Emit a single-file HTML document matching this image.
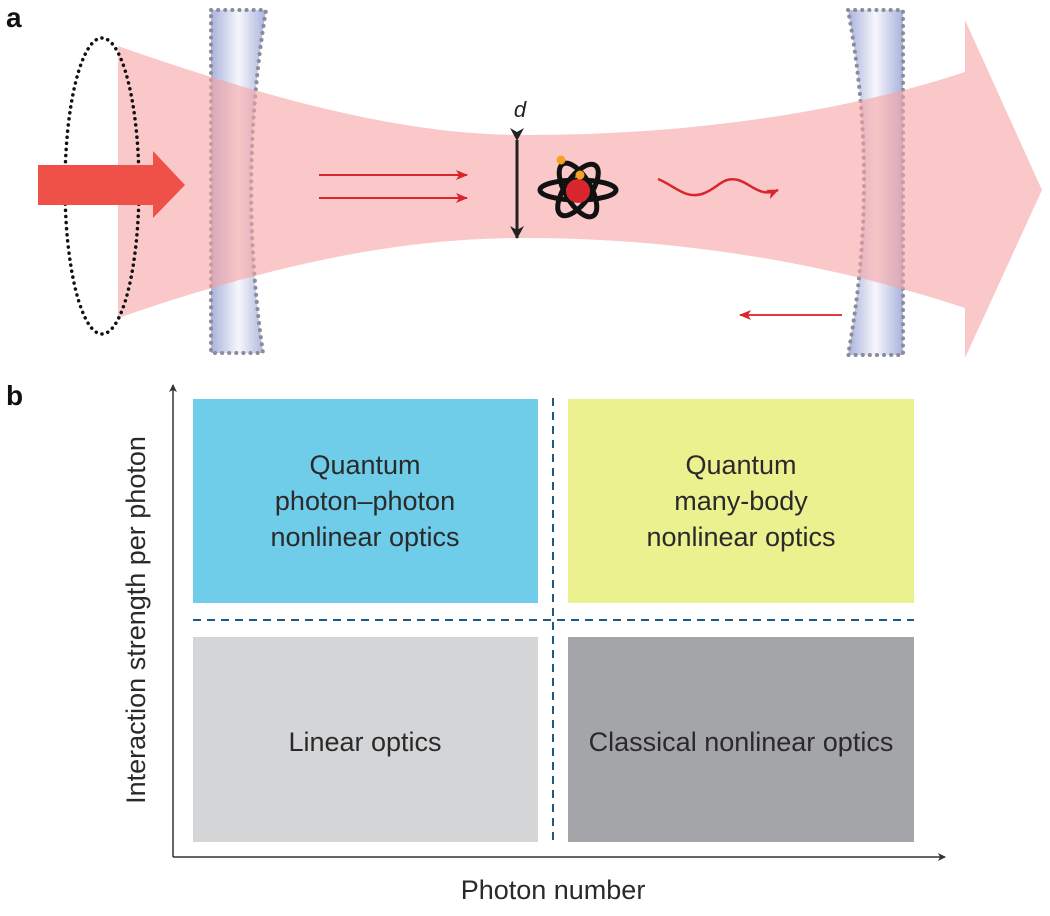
<!DOCTYPE html>
<html><head><meta charset="utf-8"><style>
body{margin:0;background:#fff;width:1050px;height:911px;overflow:hidden}
svg text{font-family:"Liberation Sans",sans-serif}
</style></head><body>
<svg width="1050" height="911" viewBox="0 0 1050 911" xmlns="http://www.w3.org/2000/svg">
<defs>
<linearGradient id="mg" x1="0" x2="1" y1="0" y2="0">
<stop offset="0" stop-color="#a9b2dc"/><stop offset="0.5" stop-color="#f6f6fc"/><stop offset="1" stop-color="#a9b2dc"/>
</linearGradient>
<marker id="ar" markerWidth="12" markerHeight="10" refX="11" refY="5" orient="auto" markerUnits="userSpaceOnUse"><path d="M0,0 L12,5 L0,10 L3,5z" fill="#d9252e"/></marker>
<marker id="ab" markerWidth="14" markerHeight="14" refX="12" refY="7" orient="auto" markerUnits="userSpaceOnUse"><path d="M0,0 L13,7 L0,14 L4,7z" fill="#222"/></marker>
<marker id="ak" markerWidth="8" markerHeight="8" refX="7" refY="4" orient="auto" markerUnits="userSpaceOnUse"><path d="M0,0 L8,4 L0,8 L2,4z" fill="#333"/></marker>
</defs>
<text x="6" y="27" font-size="28" font-weight="bold" fill="#111">a</text>
<path d="M211,10 L266,10 Q238,180 263,353 L211,353 Z" fill="url(#mg)" stroke="#8a8c99" stroke-width="4" stroke-dasharray="0.1 7" stroke-linecap="round"/>
<path d="M848,10 L903,10 L903,355 L848,355 Q880,180 848,10 Z" fill="url(#mg)" stroke="#8a8c99" stroke-width="4" stroke-dasharray="0.1 7" stroke-linecap="round"/>
<path d="M118,46 C300,110 420,135 525,135 C700,135 850,110 965,72 L965,20 L1042,190 L965,358 L965,308 C850,270 700,238 525,238 C420,238 300,255 118,318 Z" fill="#f7a3a3" fill-opacity="0.6"/>
<ellipse cx="102" cy="186" rx="37" ry="148" fill="none" stroke="#111" stroke-width="3.5" stroke-dasharray="0.1 6" stroke-linecap="round"/>
<path d="M38,165 L153,165 L153,151 L185,185 L153,218 L153,205 L38,205 Z" fill="#ef5148"/>
<line x1="319" y1="175" x2="467" y2="175" stroke="#d9252e" stroke-width="2" marker-end="url(#ar)"/>
<line x1="319" y1="198" x2="467" y2="198" stroke="#d9252e" stroke-width="2" marker-end="url(#ar)"/>
<line x1="517" y1="140" x2="517" y2="238" stroke="#222" stroke-width="3" marker-start="url(#ab)" marker-end="url(#ab)"/>
<text x="520" y="117" font-size="22" font-style="italic" fill="#222" text-anchor="middle">d</text>
<g fill="none" stroke="#111" stroke-width="5">
<ellipse cx="578" cy="190" rx="38" ry="10"/>
<ellipse cx="578" cy="190" rx="30" ry="13" transform="rotate(60 578 190)"/>
<ellipse cx="578" cy="190" rx="30" ry="13" transform="rotate(-55 578 190)"/>
</g>
<circle cx="578" cy="191" r="12" fill="#d9252e"/>
<circle cx="561" cy="160" r="4.5" fill="#f4a125"/>
<circle cx="580" cy="175" r="4.5" fill="#f4a125"/>
<path d="M658,179 C675,186 685,199 702,194 C718,189 722,176 738,180 C752,184 760,198 778,190" fill="none" stroke="#d9252e" stroke-width="2.5" marker-end="url(#ar)"/>
<line x1="842" y1="315" x2="740" y2="315" stroke="#e23a3a" stroke-width="2" marker-end="url(#ar)"/>
<text x="6" y="405" font-size="28" font-weight="bold" fill="#111">b</text>
<rect x="193" y="399" width="345" height="204" fill="#6fcde9"/>
<rect x="568" y="399" width="346" height="204" fill="#ecf190"/>
<rect x="193" y="637" width="345" height="205" fill="#d4d5d7"/>
<rect x="568" y="637" width="346" height="205" fill="#a4a5a8"/>
<line x1="553" y1="398" x2="553" y2="846" stroke="#1f5a87" stroke-width="2" stroke-dasharray="8 6"/>
<line x1="193" y1="620" x2="914" y2="620" stroke="#1f5a87" stroke-width="2" stroke-dasharray="8 6"/>
<line x1="173" y1="857" x2="173" y2="385" stroke="#333" stroke-width="1.5" marker-end="url(#ak)"/>
<line x1="173" y1="857" x2="945" y2="857" stroke="#333" stroke-width="1.5" marker-end="url(#ak)"/>
<g font-size="27" fill="#2a2a2a" text-anchor="middle">
<text x="365" y="474">Quantum</text>
<text x="365" y="510">photon–photon</text>
<text x="365" y="546">nonlinear optics</text>
<text x="741" y="474">Quantum</text>
<text x="741" y="510">many-body</text>
<text x="741" y="546">nonlinear optics</text>
<text x="365" y="751">Linear optics</text>
<text x="741" y="751">Classical nonlinear optics</text>
<text x="553" y="899">Photon number</text>
<text x="0" y="0" transform="translate(145,620) rotate(-90)">Interaction strength per photon</text>
</g>
</svg>
</body></html>
